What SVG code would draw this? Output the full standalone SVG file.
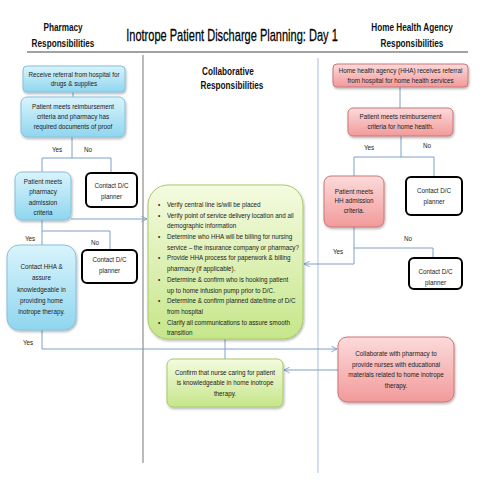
<svg xmlns="http://www.w3.org/2000/svg" width="480" height="480" viewBox="0 0 480 480">
<defs>
<linearGradient id="gBlue" x1="0" y1="0" x2="0" y2="1"><stop offset="0" stop-color="#d9f4fc"/><stop offset="1" stop-color="#8fd6ef"/></linearGradient>
<linearGradient id="gPink" x1="0" y1="0" x2="0" y2="1"><stop offset="0" stop-color="#fcdada"/><stop offset="1" stop-color="#f29a9a"/></linearGradient>
<linearGradient id="gGreen" x1="0" y1="0" x2="0" y2="1"><stop offset="0" stop-color="#f4fbe0"/><stop offset="1" stop-color="#c6e68a"/></linearGradient>
<filter id="sh" x="-10%" y="-10%" width="130%" height="130%"><feDropShadow dx="0.8" dy="1.5" stdDeviation="1" flood-color="#000" flood-opacity="0.3"/></filter>
<marker id="arr" viewBox="0 0 10 10" refX="9" refY="5" markerWidth="7" markerHeight="7" orient="auto" markerUnits="userSpaceOnUse"><path d="M1,1 L9,5 L1,9" fill="none" stroke="#7f9fc8" stroke-width="1.3"/></marker>
<style>
.blue{fill:url(#gBlue);stroke:#86c0dc;stroke-width:1;filter:url(#sh)}
.pink{fill:url(#gPink);stroke:#c97676;stroke-width:1;filter:url(#sh)}
.green{fill:url(#gGreen);stroke:#a9c86a;stroke-width:1;filter:url(#sh)}
.dc{fill:#fff;stroke:#000;stroke-width:2}
.t{font-family:"Liberation Sans",Arial,sans-serif;font-size:7px;fill:#222;text-anchor:middle;transform-box:fill-box;transform-origin:center;transform:scaleX(0.9)}
.lt text{font-family:"Liberation Sans",Arial,sans-serif;font-size:7px;fill:#222;transform-box:fill-box;transform-origin:left center;transform:scaleX(0.9)}
.h{font-family:"Liberation Sans",Arial,sans-serif;font-size:10.5px;font-weight:bold;fill:#111;text-anchor:middle;transform-box:fill-box;transform-origin:center;transform:scaleX(0.78)}
.title{font-family:"Liberation Sans",Arial,sans-serif;font-size:16px;fill:#000;stroke:#000;stroke-width:0.25;text-anchor:middle;transform-box:fill-box;transform-origin:center;transform:scaleX(0.69)}
.c{fill:none;stroke:#7f9fc8;stroke-width:1}
</style>
</defs>
<rect width="480" height="480" fill="#fff"/>

<g id="header">
<text class="h" x="63" y="31">Pharmacy</text>
<text class="h" x="63" y="47">Responsibilities</text>
<text class="title" x="232" y="41">Inotrope Patient  Discharge Planning: Day 1</text>
<text class="h" x="412" y="31">Home Health Agency</text>
<text class="h" x="412" y="47.5">Responsibilities</text>
<line x1="27" y1="52" x2="468" y2="52" stroke="#444" stroke-width="1"/>
<line x1="143" y1="55" x2="143" y2="463" stroke="#777" stroke-width="1"/>
<line x1="318" y1="58" x2="318" y2="473" stroke="#a9bfd8" stroke-width="1"/>
<text class="h" x="228" y="75">Collaborative</text>
<text class="h" x="232" y="89">Responsibilities</text>
</g>

<g id="connectors">
<path class="c" d="M73,92 V97"/>
<path class="c" d="M72,137 V158 M42,158 H111 M42,158 V172 M111,158 V173"/>
<path class="c" d="M71,219 H147" marker-end="url(#arr)"/>
<path class="c" d="M42,220 V245 M42,231 H110 V250"/>
<path class="c" d="M42,330 V349 H337" marker-end="url(#arr)"/>
<path class="c" d="M400,87 V108"/>
<path class="c" d="M401,136 V157 M354,157 H434 M354,157 V176 M434,157 V177"/>
<path class="c" d="M354,227 V264 M354,248 H433 V258"/>
<path class="c" d="M354,264 H304" marker-end="url(#arr)"/>
<path class="c" d="M225,339 V359"/>
<path class="c" d="M338,370 H284" marker-end="url(#arr)"/>
<text class="t" x="57" y="152">Yes</text>
<text class="t" x="88" y="152">No</text>
<text class="t" x="30" y="241">Yes</text>
<text class="t" x="95" y="245">No</text>
<text class="t" x="28" y="345">Yes</text>
<text class="t" x="369" y="150">Yes</text>
<text class="t" x="427" y="148">No</text>
<text class="t" x="408" y="241">No</text>
<text class="t" x="338" y="254">Yes</text>
</g>

<g id="ph-referral">
<rect class="blue" x="23" y="66" width="102" height="26" rx="4"/>
<text class="t" x="74" y="77">Receive referral from hospital for</text>
<text class="t" x="74" y="86">drugs &amp; supplies</text>
</g>
<g id="ph-reimb">
<rect class="blue" x="21" y="97" width="104" height="40" rx="6"/>
<text class="t" x="73" y="109">Patient meets reimbursement</text>
<text class="t" x="73" y="119">criteria and pharmacy has</text>
<text class="t" x="73" y="129">required documents of proof</text>
</g>
<g id="ph-admit">
<rect class="blue" x="15" y="172" width="56" height="48" rx="7"/>
<text class="t" x="43" y="184">Patient meets</text>
<text class="t" x="43" y="194.5">pharmacy</text>
<text class="t" x="43" y="205">admission</text>
<text class="t" x="43" y="215">criteria</text>
</g>
<g id="ph-dc1">
<rect class="dc" x="86" y="173" width="51" height="34" rx="5"/>
<text class="t" x="111.5" y="188.5">Contact D/C</text>
<text class="t" x="111.5" y="199.5">planner</text>
</g>
<g id="ph-hha">
<rect class="blue" x="7" y="245" width="69" height="85" rx="12"/>
<text class="t" x="41.5" y="269.5">Contact HHA &amp;</text>
<text class="t" x="41.5" y="280.5">assure</text>
<text class="t" x="41.5" y="292">knowledgeable in</text>
<text class="t" x="41.5" y="303.5">providing home</text>
<text class="t" x="41.5" y="314.5">inotrope therapy.</text>
</g>
<g id="ph-dc2">
<rect class="dc" x="82" y="250" width="55" height="33" rx="5"/>
<text class="t" x="109.5" y="262.5">Contact D/C</text>
<text class="t" x="109.5" y="273.5">planner</text>
</g>

<g id="collab">
<rect class="green" x="148" y="185" width="155" height="154" rx="20"/>
<g class="lt">
<text x="158" y="207">•</text><text x="167" y="207">Verify central line is/will be placed</text>
<text x="158" y="217.7">•</text><text x="167" y="217.7">Verify point of service delivery location and all</text>
<text x="167" y="228.4">demographic information</text>
<text x="158" y="239.1">•</text><text x="167" y="239.1">Determine who HHA will be billing for nursing</text>
<text x="167" y="249.8">service – the  insurance company or pharmacy?</text>
<text x="158" y="260.5">•</text><text x="167" y="260.5">Provide HHA process for paperwork &amp; billing</text>
<text x="167" y="271.2">pharmacy (if applicable).</text>
<text x="158" y="281.9">•</text><text x="167" y="281.9">Determine &amp; confirm who is hooking patient</text>
<text x="167" y="292.6">up to home infusion pump prior to D/C.</text>
<text x="158" y="303.3">•</text><text x="167" y="303.3">Determine &amp; confirm planned date/time of D/C</text>
<text x="167" y="314">from hospital</text>
<text x="158" y="324.7">•</text><text x="167" y="324.7">Clarify all communications to assure smooth</text>
<text x="167" y="335.4">transition</text>
</g>
</g>
<g id="confirm">
<rect class="green" x="167" y="359" width="116" height="48" rx="6"/>
<text class="t" x="225" y="375">Confirm that nurse caring for patient</text>
<text class="t" x="225" y="385.5">is knowledgeable in home inotrope</text>
<text class="t" x="225" y="396.5">therapy.</text>
</g>

<g id="hh-referral">
<rect class="pink" x="333" y="64" width="135" height="23" rx="4"/>
<text class="t" x="400.5" y="73">Home health agency (HHA) receives  referral</text>
<text class="t" x="400.5" y="83">from hospital for home health  services</text>
</g>
<g id="hh-reimb">
<rect class="pink" x="348" y="108" width="105" height="28" rx="5"/>
<text class="t" x="400.5" y="119.5">Patient meets reimbursement</text>
<text class="t" x="400.5" y="129.5">criteria for home health.</text>
</g>
<g id="hh-admit">
<rect class="pink" x="324" y="176" width="60" height="51" rx="7"/>
<text class="t" x="354" y="194">Patient meets</text>
<text class="t" x="354" y="203.5">HH admission</text>
<text class="t" x="354" y="213">criteria.</text>
</g>
<g id="hh-dc1">
<rect class="dc" x="406" y="177" width="56" height="38" rx="5"/>
<text class="t" x="434" y="193">Contact D/C</text>
<text class="t" x="434" y="204">planner</text>
</g>
<g id="hh-dc2">
<rect class="dc" x="409" y="258" width="53" height="31" rx="5"/>
<text class="t" x="435.5" y="274.5">Contact D/C</text>
<text class="t" x="435.5" y="285.5">planner</text>
</g>
<g id="hh-collab">
<rect class="pink" x="338" y="337" width="116" height="65" rx="9"/>
<text class="t" x="396" y="356.5">Collaborate with pharmacy to</text>
<text class="t" x="396" y="367">provide nurses with educational</text>
<text class="t" x="396" y="377.5">materials related to home inotrope</text>
<text class="t" x="396" y="388.5">therapy.</text>
</g>
</svg>
